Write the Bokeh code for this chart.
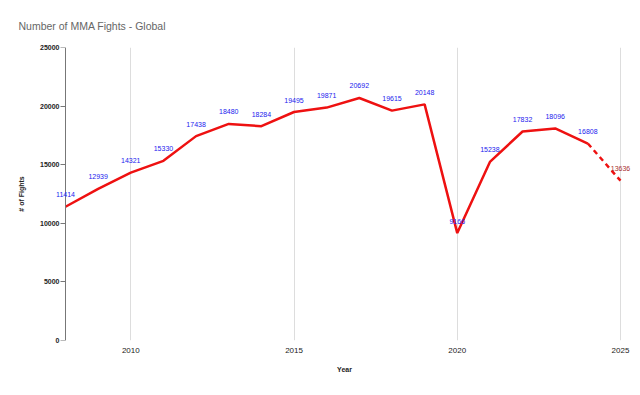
from bokeh.plotting import figure
from bokeh.models import Range1d, FixedTicker, ColumnDataSource, Title, LabelSet, LinearAxis
from bokeh.core.properties import value
from bokeh.embed import file_html
from bokeh.resources import INLINE

years = [2008, 2009, 2010, 2011, 2012, 2013, 2014, 2015, 2016, 2017, 2018, 2019, 2020, 2021, 2022, 2023, 2024, 2025]
fights = [11414, 12939, 14321, 15330, 17438, 18480, 18284, 19495, 19871, 20692, 19615, 20148, 9166, 15238, 17832, 18096, 16808, 13636]
label_colors = ["#2222ee"] * 17 + ["#a83030"]
x_ticks = [2010, 2015, 2020, 2025]
y_ticks = [0, 5000, 10000, 15000, 20000, 25000]

FONT = "Liberation Sans"

# padding (in years) so edge labels are not clipped; axis line is pinned at the first year
px_per_year = 555 / 17
pad_l = 9 / px_per_year
pad_r = 12 / px_per_year

p = figure(width=632, height=387, output_backend="svg", toolbar_location=None,
           x_range=Range1d(years[0] - pad_l, years[-1] + pad_r), y_range=Range1d(0, 25000),
           min_border_left=56, min_border_right=0, min_border_top=47, min_border_bottom=47)
p.outline_line_color = None
p.background_fill_color = "white"
p.border_fill_color = "white"

t = Title(text="Number of MMA Fights - Global", align="left", offset=-38, standoff=31,
          text_font=FONT, text_font_size="10.5px", text_font_style="normal",
          text_color="#666666")
p.add_layout(t, "above")

solid = ColumnDataSource(dict(x=years[:-1], y=fights[:-1]))
dashed = ColumnDataSource(dict(x=years[-2:], y=fights[-2:]))
p.line("x", "y", source=solid, line_color="#ee1111", line_width=2.5)
p.line("x", "y", source=dashed, line_color="#ee1111", line_width=2.5, line_dash="5 4")

labels = ColumnDataSource(dict(x=years, y=fights, t=[str(v) for v in fights], c=label_colors))
ls = LabelSet(x="x", y="y", text="t", source=labels, text_color="c", text_align="center",
              text_baseline="middle", y_offset=12, text_font=value(FONT), text_font_size="7px")
p.add_layout(ls)

# x axis
xa = p.xaxis[0]
xa.ticker = FixedTicker(ticks=x_ticks)
xa.axis_line_color = None
xa.major_tick_line_color = None
xa.minor_tick_line_color = None
xa.major_label_text_font = FONT
xa.major_label_text_font_size = "8px"
xa.major_label_text_color = "#222222"
xa.major_label_standoff = 1
xa.axis_label = "Year"
xa.axis_label_text_font = FONT
xa.axis_label_text_font_size = "7px"
xa.axis_label_text_font_style = "bold"
xa.axis_label_text_color = "#222222"
xa.axis_label_standoff = 10

# y axis: labels only (in side panel)
ya = p.yaxis[0]
ya.ticker = FixedTicker(ticks=y_ticks)
ya.axis_line_color = None
ya.major_tick_line_color = None
ya.major_tick_out = 0
ya.major_tick_in = 0
ya.minor_tick_line_color = None
ya.major_label_text_font = FONT
ya.major_label_text_font_size = "7px"
ya.major_label_text_font_style = "bold"
ya.major_label_text_color = "#222222"
ya.major_label_standoff = -3
ya.axis_label = "# of Fights"
ya.axis_label_text_font = FONT
ya.axis_label_text_font_size = "7px"
ya.axis_label_text_font_style = "bold"
ya.axis_label_text_color = "#222222"
ya.axis_label_standoff = 12

# y axis line + ticks pinned at first year
ya2 = LinearAxis(ticker=FixedTicker(ticks=y_ticks), fixed_location=years[0])
ya2.axis_line_color = "#777777"
ya2.major_tick_line_color = "#777777"
ya2.major_tick_out = 5
ya2.major_tick_in = 0
ya2.minor_tick_line_color = None
ya2.major_label_text_font_size = "0px"
ya2.major_label_text_alpha = 0
ya2.major_label_standoff = 0
p.add_layout(ya2, "left")

p.xgrid.ticker = FixedTicker(ticks=x_ticks)
p.xgrid.grid_line_color = "#dddddd"
p.xgrid.grid_line_width = 1
p.ygrid.grid_line_color = None

open("out.html", "w").write(file_html(p, INLINE))
